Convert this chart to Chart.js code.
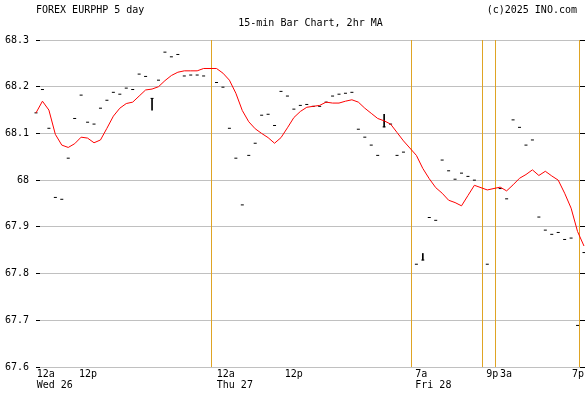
<!DOCTYPE html>
<html><head><meta charset="utf-8">
<script src="https://cdn.jsdelivr.net/npm/chart.js@4.4.1/dist/chart.umd.min.js"></script>
<style>
html,body{margin:0;padding:0;background:#fff;overflow:hidden}
#wrap{position:relative;width:585px;height:394px;background:#fff}
canvas{position:absolute;left:0;top:0}
.t{position:absolute;font:10px/10px 'DejaVu Sans Mono',monospace;color:#000;white-space:pre}
</style></head><body>
<div id="wrap">
<canvas id="c" width="585" height="394"></canvas>
<div class="t" style="left:36px;top:5px">FOREX EURPHP 5 day</div>
<div class="t" style="right:8px;top:5px">(c)2025 INO.com</div>
<div class="t" style="left:36px;width:549px;text-align:center;top:18px">15-min Bar Chart, 2hr MA</div>
</div>
<script>
// Close of each 15-min bar slot (null = empty slot)
const closes = [
  68.144, 68.194, 68.111, 67.963, 67.959, 68.047, 68.132, 68.182, 68.124, 68.120,
  68.154, 68.171, 68.188, 68.184, 68.197, 68.194, 68.227, 68.222, 68.175, 68.214,
  68.274, 68.264, 68.269, 68.223, 68.225, 68.225, 68.223, null,   68.209, 68.199,
  68.111, 68.047, 67.947, 68.053, 68.079, 68.139, 68.141, 68.117, 68.190, 68.180,
  68.152, 68.160, 68.162, 68.158, 68.158, 68.167, 68.180, 68.184, 68.186, 68.188,
  68.109, 68.092, 68.075, 68.053, 68.114, 68.120, 68.053, 68.060, null,   67.820,
  67.829, 67.920, 67.914, 68.043, 68.020, 68.002, 68.015, 68.008, 68.000, null,
  67.820, null,   67.982, 67.960, 68.129, 68.113, 68.075, 68.086, 67.921, 67.893,
  67.884, 67.888, 67.873, 67.876, 67.689, 67.845
];
// 2hr moving average
const ma = [
  68.144, 68.169, 68.150, 68.098, 68.075, 68.070, 68.078, 68.092, 68.090, 68.080,
  68.086, 68.111, 68.137, 68.154, 68.164, 68.167, 68.180, 68.193, 68.195, 68.200,
  68.213, 68.224, 68.231, 68.234, 68.234, 68.234, 68.239, null,   68.239, 68.229,
  68.214, 68.186, 68.149, 68.125, 68.110, 68.100, 68.091, 68.079, 68.091, 68.112,
  68.134, 68.147, 68.156, 68.158, 68.160, 68.167, 68.165, 68.165, 68.169, 68.172,
  68.167, 68.154, 68.143, 68.132, 68.127, 68.120, 68.102, 68.084, null,   68.053,
  68.025, 68.003, 67.984, 67.972, 67.957, 67.952, 67.945, 67.967, 67.989, null,
  67.979, null,   67.985, 67.977, 67.990, 68.004, 68.012, 68.022, 68.010, 68.019,
  68.009, 68.000, 67.972, 67.940, 67.890, 67.859
];
// Bars with a visible high-low range
const rangeSlots = [18, 54, 60];
const rangeLow  = [68.150, 68.114, 67.829];
const rangeHigh = [68.175, 68.141, 67.843];
// Session divider lines (slot positions)
const vLines = [27.2, 58.2, 69.3, 71.2, 84.3];
// X tick labels and their slot positions
const xTickPos = [0.1, 6.67, 28.04, 38.58, 58.83, 69.83, 71.97, 83.14];
const xTickLabels = [['12a','Wed 26'], '12p', ['12a','Thu 27'], '12p', ['7a','Fri 28'], '9p', '3a', '7p'];
// Y ticks
const yTicks = [67.6, 67.7, 67.8, 67.9, 68.0, 68.1, 68.2, 68.3];
const yTickLabels = ['67.6', '67.7', '67.8', '67.9', '68', '68.1', '68.2', '68.3'];

const FONT = "'DejaVu Sans Mono', monospace";
const X_MIN = 0.62, X_MAX = 84.38;

new Chart(document.getElementById('c'), {
  data: {
    datasets: [
      {
        type: 'line', label: 'MA',
        data: ma.map((v, i) => ({x: i, y: v})),
        borderColor: '#ff0000', borderWidth: 1, pointRadius: 0, tension: 0,
        spanGaps: true, clip: false, order: 0
      },
      {
        type: 'line', label: 'Close',
        data: closes.map((v, i) => ({x: i, y: v})),
        showLine: false, pointStyle: 'line', pointRadius: 1.5, pointBorderWidth: 1,
        pointBorderColor: '#000', pointBackgroundColor: '#000', clip: false, order: 1
      },
      {
        type: 'bar', label: 'Range',
        data: rangeSlots.map((s, i) => ({x: s, y: [rangeLow[i], rangeHigh[i]]})),
        backgroundColor: '#000', barThickness: 1, grouped: false, order: 2
      }
    ]
  },
  options: {
    responsive: false, animation: false, devicePixelRatio: 1, events: [],
    layout: {padding: {top: 40, left: 0, right: 0, bottom: 0}},
    plugins: {legend: {display: false}, tooltip: {enabled: false}, title: {display: false}},
    scales: {
      x: {
        type: 'linear', position: 'bottom', min: X_MIN, max: X_MAX, offset: false,
        grid: {display: false, offset: false, drawTicks: false, tickLength: 0}, border: {display: false},
        ticks: {
          autoSkip: false, maxRotation: 0, minRotation: 0, align: 'start', padding: 2,
          color: '#000', font: {family: FONT, size: 10, lineHeight: 1.1},
          callback: (v, i) => xTickLabels[i]
        },
        afterBuildTicks: s => { s.ticks = xTickPos.map(v => ({value: v})); },
        afterFit: s => { s.height = 27; s.paddingLeft = 0; s.paddingRight = 0; }
      },
      x2: {
        type: 'linear', position: 'bottom', min: X_MIN, max: X_MAX, offset: false,
        ticks: {display: false},
        grid: {color: '#dfa424', lineWidth: 1, drawTicks: false, tickLength: 0, offset: false, z: -0.5},
        border: {display: false},
        afterBuildTicks: s => { s.ticks = vLines.map(v => ({value: v})); },
        afterFit: s => { s.height = 0; s.paddingLeft = 0; s.paddingRight = 0; }
      },
      y: {
        type: 'linear', position: 'left', min: 67.6, max: 68.3,
        grid: {color: '#c0c0c0', tickColor: '#000', tickLength: 4, drawTicks: true},
        border: {display: false},
        ticks: {padding: 7, color: '#000', font: {family: FONT, size: 10},
                callback: (v, i) => yTickLabels[i]},
        afterBuildTicks: s => { s.ticks = yTicks.map(v => ({value: v})); },
        afterFit: s => { s.width = 40; s.paddingTop = 0; s.paddingBottom = 0; }
      },
      y2: {
        type: 'linear', position: 'right', min: 67.6, max: 68.3,
        grid: {drawOnChartArea: false, tickColor: '#000', tickLength: 5, drawTicks: true},
        border: {display: false},
        ticks: {display: false},
        afterBuildTicks: s => { s.ticks = yTicks.map(v => ({value: v})); },
        afterFit: s => { s.width = 5; s.paddingTop = 0; s.paddingBottom = 0; }
      }
    }
  }
});
</script>
</body></html>
